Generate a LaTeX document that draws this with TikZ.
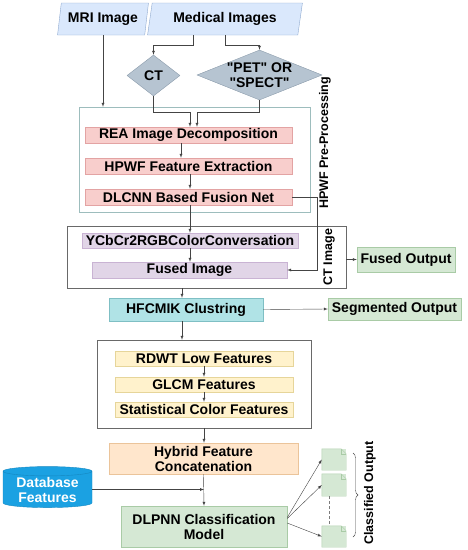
\documentclass[tikz,border=0pt]{standalone}
\usepackage{fontspec}
\setmainfont{Liberation Sans}
\usetikzlibrary{shapes.geometric,decorations.pathreplacing}
\definecolor{ioF}{HTML}{DAE8FC}\definecolor{ioD}{HTML}{8FA9CF}
\definecolor{dmF}{HTML}{B6C4D1}\definecolor{dmD}{HTML}{8A9BAB}
\definecolor{pkF}{HTML}{F8CECC}\definecolor{pkD}{HTML}{E3A3A3}
\definecolor{puF}{HTML}{E1D5E7}\definecolor{puD}{HTML}{C9B3D3}
\definecolor{grF}{HTML}{D5E8D4}\definecolor{grD}{HTML}{A9CBA6}
\definecolor{tlF}{HTML}{B0E3E6}\definecolor{tlD}{HTML}{7FBFC4}
\definecolor{ylF}{HTML}{FFF2CC}\definecolor{ylD}{HTML}{E6D59A}
\definecolor{orF}{HTML}{FFE6CC}\definecolor{orD}{HTML}{EBC49A}
\definecolor{dbF}{HTML}{1BA1E2}\definecolor{dbD}{HTML}{1587C0}
\definecolor{preD}{HTML}{9DBDBD}
\definecolor{lnC}{HTML}{444444}
\tikzset{
  txt/.style={font=\fontsize{14}{15}\selectfont\bfseries, align=center, inner sep=0pt},
  io/.style={txt, trapezium, trapezium left angle=76, trapezium right angle=104,
    trapezium stretches=true, fill=ioF, draw=ioD},
  dec/.style={diamond, inner sep=0pt, fill=dmF, draw=dmD, label={[txt]center:#1}},
  stepbox/.style={txt, rectangle, draw=#1D, fill=#1F},
  frame/.style={rectangle, inner sep=0pt},
  side/.style={font=\fontsize{12.5}{13}\selectfont\bfseries, rotate=90, inner sep=0pt},
  arr/.style={draw=lnC, -latex},
  docbox/.style={rectangle, inner sep=0pt, fill=grF, minimum width=24pt},
  docline/.style={draw=grD}
}
\begin{document}
\begin{tikzpicture}[x=1pt,y=-1pt]
  \useasboundingbox (0,0) rectangle (467,550);
  % inputs
  \node[io, minimum width=91, minimum height=32] (mri) at (103,19) {MRI Image};
  \node[io, minimum width=155, minimum height=32] (med) at (225,19) {Medical Images};
  \node[dec=CT, minimum width=53, minimum height=41] (ct) at (153.5,75.5) {};
  \node[dec={\textquotedbl PET\textquotedbl{} OR\\\textquotedbl SPECT\textquotedbl},
    minimum width=125, minimum height=50] (pet) at (259.5,75) {};
  % pre-processing
  \node[frame, draw=preD, minimum width=231, minimum height=105] (pre) at (194.5,159.5) {};
  \node[side] (prelbl) at (325,143) {HPWF Pre-Processing};
  \node[stepbox=pk, minimum width=207, minimum height=16] (rea) at (188.5,135) {REA Image Decomposition};
  \node[stepbox=pk, minimum width=207, minimum height=16] (hpwf) at (188.5,166) {HPWF Feature Extraction};
  \node[stepbox=pk, minimum width=207, minimum height=16] (dlcnn) at (188.5,197) {DLCNN Based Fusion Net};
  % colour conversion
  \node[frame, draw=lnC!80, minimum width=279, minimum height=62] (ctimg) at (206.5,257) {};
  \node[side] (ctlbl) at (329,257) {CT Image};
  \node[stepbox=pu, minimum width=216, minimum height=15] (ycc) at (190,240.5) {YCbCr2RGBColorConversation};
  \node[stepbox=pu, minimum width=195, minimum height=16] (fused) at (189.5,270) {Fused Image};
  \node[stepbox=gr, minimum width=98, minimum height=25] (fout) at (406,259.5) {Fused Output};
  % segmentation
  \node[stepbox=tl, minimum width=154, minimum height=23] (hfc) at (186,309.5) {HFCMIK Clustring};
  \node[stepbox=gr, minimum width=133, minimum height=22] (sout) at (394.5,309) {Segmented Output};
  % features
  \node[frame, draw=lnC!80, minimum width=214, minimum height=88] (feat) at (204,384) {};
  \node[stepbox=yl, minimum width=178, minimum height=15] (rdwt) at (204,358.5) {RDWT Low Features};
  \node[stepbox=yl, minimum width=178, minimum height=15] (glcm) at (204,384.5) {GLCM Features};
  \node[stepbox=yl, minimum width=178, minimum height=15] (stat) at (204,409.5) {Statistical Color Features};
  \node[stepbox=or, minimum width=189, minimum height=31] (hyb) at (203.5,458.5) {Hybrid Feature\\Concatenation};
  \node[txt, cylinder, shape border rotate=90, aspect=0.15, fill=dbF, draw=dbD, text=white,
    minimum width=89, minimum height=41] (db) at (47.5,489.5) {Database\\Features};
  \node[stepbox=gr, minimum width=166, minimum height=41] (dlp) at (204,526.5) {DLPNN Classification\\Model};
  % classified outputs
  \node[docbox, minimum height=21] (docA) at (334,459.5) {};
  \node[docbox, minimum height=22] (docB) at (334,485) {};
  \node[docbox, minimum height=21] (docC) at (334,536.5) {};
  \foreach \d in {docA,docB,docC} {
    \draw[docline] (\d.south west) -- (\d.north west) -- ([xshift=-5]\d.north east)
      -- ([yshift=-5]\d.north east) -- (\d.south east) -- cycle;
    \draw[docline] ([xshift=-5]\d.north east) -- ([xshift=-5,yshift=-5]\d.north east)
      -- ([yshift=-5]\d.north east);
  }
  \draw[lnC!70, densely dashed] ([xshift=-5]docB.south) -- ([xshift=-5]docC.north);
  \coordinate (brT) at (353,453);
  \coordinate (brB) at (353,537);
  \draw[lnC, decorate, decoration={brace, amplitude=5pt}] (brT) -- (brB);
  \node[side] (clslbl) at (370,493) {Classified Output};
  % connectors
  \draw[arr] (mri.south) -- (mri.south |- pre.north);
  \draw[arr] ([xshift=-32]med.south) -- ++(0,10) -| (ct.north);
  \draw[arr] (med.south) -- ++(0,10) -| (pet.north);
  \draw[arr] (ct.south) -- ++(0,16) -| ([xshift=1.5]rea.north);
  \draw[arr] (pet.south) -- ++(0,12) -| ([xshift=8.5]rea.north);
  \draw[arr] ([xshift=-7.5]rea.south) -- ([xshift=-7.5]hpwf.north);
  \draw[arr] ([xshift=1.5]hpwf.south) -- ([xshift=1.5]dlcnn.north);
  \draw[arr] (ycc.north |- dlcnn.south) -- (ycc.north);
  \draw[arr] (dlcnn.east) -- ++(25,0) |- (fused.east);
  \draw[arr] (ycc.south) -- (ycc.south |- fused.north);
  \draw[arr] (ctimg.east |- fout.west) -- (fout.west);
  \draw[arr] ([xshift=-4]hfc.north |- ctimg.south) -- ([xshift=-4]hfc.north);
  \draw[arr] (hfc.east) -- (sout.west);
  \draw[arr] ([xshift=-4]hfc.south) -- ([xshift=-4]hfc.south |- feat.north);
  \draw[arr] (rdwt.south) -- (glcm.north);
  \draw[arr] (glcm.south) -- (stat.north);
  \draw[arr] (feat.south) -- (feat.south |- hyb.north);
  \draw[arr] (hyb.south) -- (dlp.north);
  \draw[arr] (db.east) -- (db.east -| dlp.north);
  \draw[arr] ([yshift=9]dlp.east) -- (docA.west);
  \draw[arr] ([yshift=8]dlp.east) -- (docB.west);
  \draw[arr] ([yshift=3.5]dlp.east) -- (docC.west);
\end{tikzpicture}
\end{document}
